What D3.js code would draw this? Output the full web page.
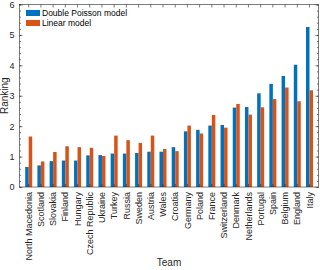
<!DOCTYPE html>
<html>
<head>
<meta charset="utf-8">
<script src="https://cdn.jsdelivr.net/npm/d3@7"></script>
<style>
  body { margin: 0; background: #fff; }
  text { font-family: "Liberation Sans", Arial, sans-serif; }
</style>
</head>
<body>
<div id="root"></div>
<script>
// values
const teams = ["North Macedonia", "Scotland", "Slovakia", "Finland", "Hungary",
  "Czech Republic", "Ukraine", "Turkey", "Russia", "Sweden", "Austria", "Wales",
  "Croatia", "Germany", "Poland", "France", "Switzerland", "Denmark",
  "Netherlands", "Portugal", "Spain", "Belgium", "England", "Italy"];
const doublePoisson = [0.66, 0.71, 0.85, 0.87, 0.87, 1.04, 1.05, 1.10, 1.10,
  1.12, 1.16, 1.16, 1.31, 1.83, 1.88, 2.02, 2.04, 2.61, 2.63, 3.08, 3.39, 3.65,
  4.02, 5.26];
const linear = [1.66, 0.84, 1.15, 1.34, 1.31, 1.29, 1.02, 1.69, 1.54, 1.45,
  1.69, 1.25, 1.18, 2.02, 1.76, 2.37, 1.95, 2.73, 2.38, 2.62, 2.89, 3.27,
  2.82, 3.18];
const seriesNames = ["Double Poisson model", "Linear model"];
const yTicks = [0, 1, 2, 3, 4, 5, 6];

const W = 320, H = 270;
const plotL = 19.5, plotR = 318.5, plotT = 4.5, plotB = 187;
const axisColor = "#262626";
const colors = ["#0072BD", "#D95319"];

const svg = d3.select("#root").append("svg")
  .attr("width", W).attr("height", H)
  .attr("viewBox", `0 0 ${W} ${H}`);

const x = d3.scaleBand().domain(teams).range([22.6, 315.6]);
const y = d3.scaleLinear().domain([0, 6]).range([plotB, plotT]);
const barW = 3.5;

const series = [doublePoisson, linear];
series.forEach((vals, s) => {
  svg.append("g").selectAll("rect")
    .data(vals)
    .join("rect")
    .attr("x", (d, i) => x(teams[i]) + x.bandwidth() / 2 - barW + s * barW)
    .attr("width", barW)
    .attr("y", d => y(d))
    .attr("height", d => y(0) - y(d))
    .attr("fill", colors[s]);
});

// box
svg.append("rect")
  .attr("x", plotL).attr("y", plotT)
  .attr("width", plotR - plotL).attr("height", plotB - plotT)
  .attr("fill", "none").attr("stroke", axisColor).attr("stroke-width", 0.6);

const minor = d3.range(0, 6.01, 0.2);
function styleAxis(g) {
  g.select(".domain").remove();
  g.selectAll("line").attr("stroke", axisColor).attr("stroke-width", 0.6);
  g.selectAll("text").attr("fill", axisColor).attr("font-size", 9);
}

// y axis left with labels
svg.append("g").attr("transform", `translate(${plotL},0)`)
  .call(d3.axisLeft(y).tickValues(yTicks).tickSize(-3).tickPadding(5).tickFormat(d3.format("d")))
  .call(styleAxis);
svg.append("g").attr("transform", `translate(${plotL},0)`)
  .call(d3.axisLeft(y).tickValues(minor).tickSize(-1.5).tickFormat(""))
  .call(styleAxis);
// y axis right ticks
svg.append("g").attr("transform", `translate(${plotR},0)`)
  .call(d3.axisRight(y).tickValues(yTicks).tickSize(-3).tickFormat(""))
  .call(styleAxis);
svg.append("g").attr("transform", `translate(${plotR},0)`)
  .call(d3.axisRight(y).tickValues(minor).tickSize(-1.5).tickFormat(""))
  .call(styleAxis);

// x axis bottom
const xb = svg.append("g").attr("transform", `translate(0,${plotB})`)
  .call(d3.axisBottom(x).tickSize(-3).tickPadding(0))
  .call(styleAxis);
xb.selectAll("text")
  .attr("transform", "rotate(-90)")
  .attr("text-anchor", "end")
  .attr("dy", "0.35em")
  .attr("x", -5)
  .attr("y", 0);
// x axis top
svg.append("g").attr("transform", `translate(0,${plotT})`)
  .call(d3.axisTop(x).tickSize(-3).tickFormat(""))
  .call(styleAxis);

// axis titles
svg.append("text")
  .attr("transform", `translate(8,${(plotT + plotB) / 2}) rotate(-90)`)
  .attr("text-anchor", "middle")
  .attr("font-size", 10).attr("fill", axisColor)
  .text("Ranking");
svg.append("text")
  .attr("x", (plotL + plotR) / 2).attr("y", 266)
  .attr("text-anchor", "middle")
  .attr("font-size", 10).attr("fill", axisColor)
  .text("Team");

// legend
const lg = svg.append("g").attr("transform", "translate(26,10)");
seriesNames.forEach((name, i) => {
  lg.append("rect").attr("x", 0).attr("y", i * 10)
    .attr("width", 14).attr("height", 6).attr("fill", colors[i]);
  lg.append("text").attr("x", 16).attr("y", i * 10 + 3)
    .attr("dy", "0.35em").attr("font-size", 8.5).attr("fill", "#000")
    .text(name);
});
</script>
</body>
</html>
